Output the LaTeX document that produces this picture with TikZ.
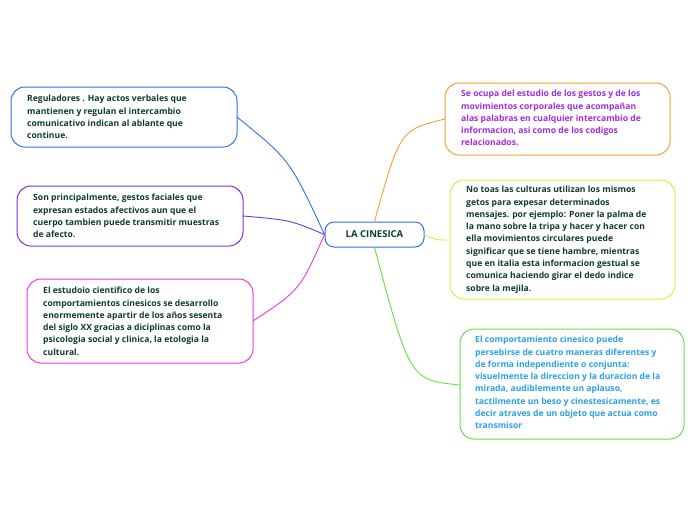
\documentclass[tikz,border=0pt]{standalone}
\usepackage{fontspec}
\setmainfont{Open Sans}
\definecolor{txt}{HTML}{0E3B2E}
\definecolor{cblue}{HTML}{2F6FF0}
\definecolor{cpurp}{HTML}{7A2FF0}
\definecolor{cmag}{HTML}{E83AE0}
\definecolor{corange}{HTML}{F5A030}
\definecolor{cyel}{HTML}{D6F040}
\definecolor{cgreen}{HTML}{66E040}
\definecolor{tpurp}{HTML}{A32BE0}
\definecolor{tblue}{HTML}{2AA0E8}
\begin{document}
\begin{tikzpicture}[x=1pt,y=-1pt,
  box/.style={anchor=north west,align=left,inner sep=0pt,font=\fontsize{8.6}{12.3}\selectfont\bfseries,text=txt},
  frame/.style={line width=1pt,rounded corners=14pt},
  link/.style={line width=0.9pt}]
\useasboundingbox (0,0) rectangle (696,520);
\node[box] (regt) at (27,95) {\parbox{205pt}{Reguladores . Hay actos verbales que\\mantienen y regulan el intercambio\\comunicativo indican al ablante que\\continue.}};
\draw[frame,cblue] (11,87) rectangle (237,147);
\coordinate (reg) at (237,117);
\node[box] (sont) at (33,194) {\parbox{210pt}{Son principalmente, gestos faciales que\\expresan estados afectivos aun que el\\cuerpo tambien puede transmitir muestras\\de afecto.}};
\draw[frame,cpurp] (17,186) rectangle (243,246);
\coordinate (son) at (243,216);
\node[box] (estt) at (43,287) {\parbox{210pt}{El estudoio cientifico de los\\comportamientos cinesicos se desarrollo\\enormemente apartir de los años sesenta\\del siglo XX gracias a diciplinas como la\\psicologia social y clinica, la etologia la\\cultural.}};
\draw[frame,cmag] (27,279) rectangle (253,363);
\coordinate (est) at (253,321);
\node[box,text=tpurp] (ocut) at (461,90) {\parbox{205pt}{Se ocupa del estudio de los gestos y de los\\movimientos corporales que acompañan\\alas palabras en cualquier intercambio de\\informacion, asi como de los codigos\\relacionados.}};
\draw[frame,corange] (445,83) rectangle (670,155);
\coordinate (ocu) at (445,119);
\node[box] (toat) at (466,186) {\parbox{205pt}{No toas las culturas utilizan los mismos\\getos para expesar determinados\\mensajes. por ejemplo: Poner la palma de\\la mano sobre la tripa y hacer y hacer con\\ella movimientos circulares puede\\significar que se tiene hambre, mientras\\que en italia esta informacion gestual se\\comunica haciendo girar el dedo indice\\sobre la mejila.}};
\draw[frame,cyel] (450,180) rectangle (675,299);
\coordinate (toa) at (450,240);
\node[box,text=tblue] (comt) at (475,336) {\parbox{205pt}{El comportamiento cinesico puede\\persebirse de cuatro  maneras diferentes y\\de forma independiente o conjunta:\\visuelmente  la direccion y la duracion de la\\mirada, audiblemente un aplauso,\\tactilmente un beso y cinestesicamente, es\\decir atraves de un objeto que actua como\\transmisor}};
\draw[frame,cgreen] (460,329) rectangle (684,439);
\coordinate (com) at (460,385);
\node[draw=cblue,line width=1pt,rounded corners=9pt,minimum width=99pt,minimum height=25pt,font=\fontsize{9.5}{10}\selectfont\bfseries,text=txt] (c) at (374.5,234.5) {LA CINESICA};
\draw[link,cblue] (c.west) .. controls (290,160) .. (reg);
\draw[link,cpurp] (c.west) .. controls (290,220) .. (son);
\draw[link,cmag] (c.west) .. controls (300,290) .. (est);
\draw[link,corange] (c.north) .. controls (400,130) .. (ocu);
\draw[link,cyel] (c.east) .. controls (435,240) .. (toa);
\draw[link,cgreen] (c.south) .. controls (410,380) .. (com);
\end{tikzpicture}
\end{document}
